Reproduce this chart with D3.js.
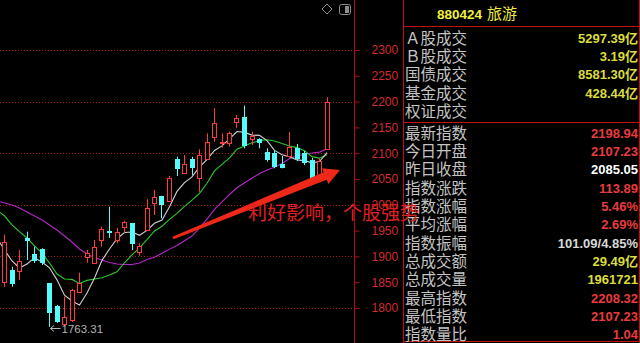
<!DOCTYPE html>
<html><head><meta charset="utf-8">
<script src="https://cdn.jsdelivr.net/npm/d3@7/dist/d3.min.js"></script>
<style>html,body{margin:0;padding:0;background:#000;overflow:hidden}</style>
</head><body><svg id="c" width="640" height="343"></svg>
<script>
// ---- candle data (index 880424 旅游) ----
const opens  = [1851,1873.6,1872.3,1936.2,1904.7,1914.3,1848.4,1804,1769,1776.7,1831.6,1899.4,1886.6,1931.8,1949.2,1931.8,1956.4,1964.1,1909.1,1951.2,2004.1,2017,2008,2088.2,2062.2,2088.2,2051.4,2088.2,2132,2119.2,2119.2,2161,2171.1,2126.6,2127.5,2102.9,2099.8,2078.5,2094.6,2111,2099.8,2086.8,2053.9,2107.23];
const highs  = [1942,1880,1912.4,1947.9,1918.8,1916,1848.4,1806,1822,1837,1868.4,1912.4,1931.8,1957.6,1996.3,1955.6,1969.2,1965,1925.4,2010.7,2028.7,2017.5,2055.8,2093.2,2096.5,2093.2,2107.6,2138.6,2187,2138.6,2141.7,2174,2192.4,2141.7,2128.9,2109.5,2106,2094.6,2141.1,2117.8,2104.3,2090.7,2090.7,2208.32];
const lows   = [1841,1841.3,1854.3,1893,1887.2,1883.3,1763.31,1771,1765,1773,1829.6,1887.8,1886,1918.8,1935.7,1925.4,1945.9,1912.4,1901.4,1949.8,1980.2,1973.8,2006,2055.8,2061,2057.8,2025.4,2086.8,2122.3,2111,2112.6,2149,2109.5,2115.9,2109.5,2083.5,2070.7,2070.7,2092.6,2084.9,2077,2048,2048,2107.23];
const closes = [1927,1846.5,1891,1930.4,1891,1887.2,1790.3,1773.4,1782,1834.9,1847.9,1907.2,1918.8,1952.5,1945.3,1947.9,1967.2,1924,1920.2,1993.2,2015.7,1999.6,2052.5,2068.8,2078.5,2070.7,2096.5,2122.3,2158.5,2122.3,2138.6,2168.2,2114,2132.4,2119.8,2087.4,2073.3,2071.9,2112.6,2089.7,2080.4,2051.4,2085.05,2198.94];
// moving averages, first value belongs to the (off-screen) bar before the first candle
const ma5  = [1935.7,1912.4,1891.1,1877.5,1885.3,1897.2,1889.2,1878.0,1854.5,1824.8,1813.6,1805.7,1829.1,1858.2,1892.3,1914.3,1934.3,1946.3,1947.4,1940.9,1950.5,1964.1,1970.5,1996.2,2026.0,2043.0,2054.0,2073.4,2087.4,2105.3,2114.1,2127.6,2142.0,2140.3,2135.1,2134.6,2124.4,2105.4,2097.0,2093.0,2087.0,2085.6,2081.2,2083.8,2101.1];
const ma10 = [1990,1978.3,1960.9,1947.9,1935.7,1920.2,1906.6,1887.2,1865.9,1856.2,1855.4,1847.5,1853.5,1856.3,1858.5,1864.0,1870.0,1887.7,1902.8,1916.6,1932.4,1949.2,1958.4,1971.8,1983.4,1996.8,2009.0,2022.0,2041.8,2065.6,2078.5,2090.8,2107.7,2113.8,2120.2,2124.3,2126.0,2123.7,2118.6,2114.1,2110.8,2105.0,2093.3,2090.4,2097.0];
const ma20 = [2007.4,2003.5,1999.6,1993.8,1986,1978.3,1970.5,1960.9,1951.2,1939.5,1927.9,1914.3,1904.7,1897.9,1893,1888.2,1885.3,1884.3,1884.3,1887.2,1893.9,1898.3,1906.0,1914.1,1921.0,1930.4,1939.5,1954.8,1972.3,1991.1,2005.5,2020.0,2033.1,2042.8,2051.8,2060.5,2067.5,2072.8,2080.2,2089.8,2094.7,2097.9,2100.5,2102.1,2108.6];
const yTickValues = [1800,1850,1900,1950,2000,2050,2100,2150,2200,2250,2300];
const gridValues = [1800,1900,2000,2100,2200,2300];
const lowLabel = "1763.31";
const annotation = "利好影响，个股强势";
// ---- info panel ----
const title = ["880424", "旅游"];
const topLabels = ["Ａ股成交","Ｂ股成交","国债成交","基金成交","权证成交"];
const topValues = ["5297.39亿","3.19亿","8581.30亿","428.44亿",""];
const topColors = ["y","y","y","y","y"];
const botLabels = ["最新指数","今日开盘","昨日收盘","指数涨跌","指数涨幅","平均涨幅","指数振幅","总成交额","总成交量","最高指数","最低指数","指数量比"];
const botValues = ["2198.94","2107.23","2085.05","113.89","5.46%","2.69%","101.09/4.85%","29.49亿","1961721","2208.32","2107.23","1.04"];
const botColors = ["r","r","w","r","r","r","g","y","y","r","r","r"];

const colorMap = {r:"#e83c3c", y:"#dcdc3c", w:"#ffffff", g:"#d8d8d8"};
const UP = "#ff3c3c", DOWN = "#54fcfc";

const svg = d3.select("#c");
svg.append("rect").attr("width",640).attr("height",343).attr("fill","#000");

const x = d3.scaleLinear().domain([0, closes.length-1]).range([4.5, 327]);
const y = d3.scaleLinear().domain([1800, 2300]).range([308, 50]);
const axisX = 354;

svg.append("defs").append("clipPath").attr("id","pc")
  .append("rect").attr("x",0).attr("y",0).attr("width",axisX).attr("height",343);

// gridlines
svg.append("g").selectAll("line").data(gridValues).join("line")
  .attr("x1",0).attr("x2",axisX)
  .attr("y1",d=>Math.round(y(d))+0.5).attr("y2",d=>Math.round(y(d))+0.5)
  .attr("stroke","#a01818").attr("stroke-width",1).attr("stroke-dasharray","1,2");

// axis
const ax = svg.append("g").attr("transform",`translate(${axisX+0.5},0)`)
  .call(d3.axisRight(y).tickValues(yTickValues).tickSize(5).tickPadding(12).tickFormat(d3.format("d")));
ax.select(".domain").remove();
ax.selectAll(".tick line").attr("stroke","#b01010");
ax.selectAll(".tick text").attr("fill","#d02c2c").attr("font-size","12px")
  .attr("font-family","'Liberation Sans',Arial,sans-serif");
svg.append("line").attr("x1",axisX+0.5).attr("x2",axisX+0.5).attr("y1",0).attr("y2",343)
  .attr("stroke","#b01010");

const plot = svg.append("g").attr("clip-path","url(#pc)");

// MA lines
const maX = (d,i)=> x(i-1);
const line = d3.line().x(maX).y(d=>y(d));
plot.append("path").datum(ma20).attr("d",line).attr("fill","none").attr("stroke","#b428c8").attr("stroke-width",1.1);
plot.append("path").datum(ma10).attr("d",line).attr("fill","none").attr("stroke","#2cc82c").attr("stroke-width",1.1);
plot.append("path").datum(ma5).attr("d",line).attr("fill","none").attr("stroke","#d0d0d0").attr("stroke-width",1.1);

// candles
const idx = d3.range(closes.length);
const cg = plot.append("g");
idx.forEach(i=>{
  const cx = Math.floor(x(i));
  const up = closes[i] >= opens[i];
  const col = up ? UP : DOWN;
  const yTop = y(Math.max(opens[i],closes[i]));
  const yBot = y(Math.min(opens[i],closes[i]));
  const g = cg.append("g");
  if (up) {
    g.append("line").attr("x1",cx+0.5).attr("x2",cx+0.5).attr("y1",y(highs[i])).attr("y2",Math.round(yTop)).attr("stroke",col);
    g.append("line").attr("x1",cx+0.5).attr("x2",cx+0.5).attr("y1",Math.round(yBot)).attr("y2",y(lows[i])).attr("stroke",col);
    g.append("rect").attr("x",cx-2+0.5).attr("y",Math.round(yTop)+0.5).attr("width",4)
      .attr("height",Math.max(1,Math.round(yBot)-Math.round(yTop)))
      .attr("fill","#000").attr("stroke",col).attr("stroke-width",1);
  } else {
    g.append("line").attr("x1",cx+0.5).attr("x2",cx+0.5).attr("y1",y(highs[i])).attr("y2",y(lows[i])).attr("stroke",col);
    g.append("rect").attr("x",cx-2).attr("y",Math.round(yTop)).attr("width",5)
      .attr("height",Math.max(1.5,Math.round(yBot)-Math.round(yTop)))
      .attr("fill",col);
  }
});

// low marker
const lowIdx = d3.minIndex(lows);
const lx = Math.floor(x(lowIdx))+1.5, ly = Math.round(y(lows[lowIdx]))+1;
svg.append("line").attr("x1",lx).attr("x2",lx+10).attr("y1",ly+0.5).attr("y2",ly+0.5).attr("stroke","#b4b4b4");
svg.append("path").attr("d",`M${lx},${ly+0.5}L${lx+3.5},${ly-2.5}M${lx},${ly+0.5}L${lx+3.5},${ly+3.5}`).attr("stroke","#b4b4b4").attr("fill","none");
svg.append("text").attr("x",lx+11).attr("y",ly+4.5).text(lowLabel)
  .attr("fill","#b4b4b4").attr("font-size","11.5px").attr("font-family","'Liberation Sans',Arial,sans-serif");

// top icons
svg.append("path").attr("d","M327,4L332,9L327,14L322,9Z").attr("fill","none").attr("stroke","#8c8c8c");
svg.append("rect").attr("x",339.5).attr("y",4.5).attr("width",11).attr("height",10).attr("rx",2)
  .attr("fill","none").attr("stroke","#8c8c8c");
svg.append("rect").attr("x",345).attr("y",6).attr("width",4).attr("height",7).attr("fill","#8c8c8c");

// ---- info panel ----
const P = svg.append("g");
const px0 = 403;
P.append("line").attr("x1",px0+0.5).attr("x2",px0+0.5).attr("y1",0).attr("y2",343).attr("stroke","#c01010");
P.append("line").attr("x1",px0).attr("x2",640).attr("y1",26.5).attr("y2",26.5).attr("stroke","#c01010");
P.append("line").attr("x1",px0).attr("x2",640).attr("y1",122.5).attr("y2",122.5).attr("stroke","#c01010");
P.append("line").attr("x1",px0).attr("x2",640).attr("y1",341.5).attr("y2",341.5).attr("stroke","#c01010");
P.append("line").attr("x1",639.5).attr("x2",639.5).attr("y1",0).attr("y2",343).attr("stroke","#c01010");

P.append("text").attr("x",437).attr("y",18.5).text(title[0]).attr("fill","#f0f03c")
  .attr("font-size","13.5px").attr("font-weight","bold").attr("font-family","'Liberation Sans',Arial,sans-serif");
P.append("text").attr("x",487).attr("y",19).text(title[1]).attr("fill","#f0f03c")
  .attr("font-size","15px").attr("font-family","'Noto Sans CJK SC',sans-serif");

const rowH = 18.35;
function rows(labels, values, colors, y0){
  labels.forEach((lab,i)=>{
    const cy = y0 + i*rowH;
    P.append("text").attr("x",405).attr("y",cy+5.5).text(lab).attr("fill","#c4c4c4")
      .attr("font-size","15.5px").attr("font-family","'Noto Sans CJK SC',sans-serif");
    if (values[i]) P.append("text").attr("x",638).attr("y",cy+4.5).attr("text-anchor","end").text(values[i])
      .attr("fill",colorMap[colors[i]]).attr("font-size","13px").attr("font-weight","bold")
      .attr("font-family","'Liberation Sans','Noto Sans CJK SC',sans-serif");
  });
}
rows(topLabels, topValues, topColors, 38);
rows(botLabels, botValues, botColors, 133);

// ---- annotation arrow and text ----
const T=[173,238], H=[340,170];
const dx=H[0]-T[0], dy=H[1]-T[1], L=Math.hypot(dx,dy);
const u=[dx/L,dy/L], n=[-u[1],u[0]];
const B=[H[0]-16*u[0], H[1]-16*u[1]];
const pt=(p,k)=>[p[0]+k*n[0], p[1]+k*n[1]];
const poly=[pt(T,1.3),pt(B,4),pt(B,8.5),H,pt(B,-8.5),pt(B,-4),pt(T,-1.3)];
svg.append("path").attr("d","M"+poly.map(p=>p.join(",")).join("L")+"Z").attr("fill","#f02818");
svg.append("text").attr("x",248).attr("y",220).text(annotation).attr("fill","#e02020")
  .attr("font-size","19px").attr("font-family","'Noto Sans CJK SC',sans-serif");
</script>
</body></html>
